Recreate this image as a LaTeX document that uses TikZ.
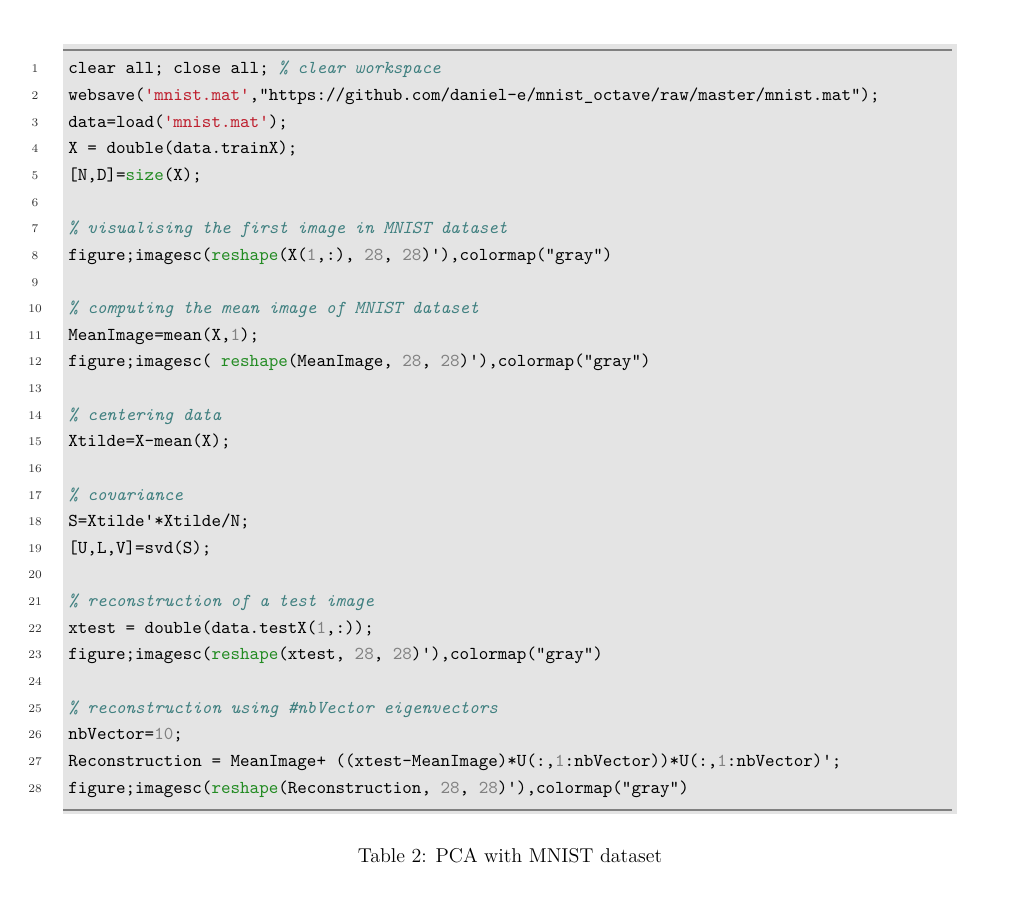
\documentclass[tikz,border=0pt]{standalone}
\definecolor{cmt}{RGB}{64,128,128}
\definecolor{str}{RGB}{190,30,45}
\definecolor{kw}{RGB}{34,139,34}
\definecolor{num}{RGB}{128,128,128}
\definecolor{bg}{RGB}{228,228,228}
\newcommand{\qq}{\char"27 }
\newcommand{\dq}{\char"22 }
\newcommand{\cm}[1]{\textcolor{cmt}{\itshape #1}}
\newcommand{\st}[1]{\textcolor{str}{#1}}
\newcommand{\kwd}[1]{\textcolor{kw}{#1}}
\newcommand{\nm}[1]{\textcolor{num}{#1}}
\begin{document}
\begin{tikzpicture}[x=0.55pt,y=-0.55pt,
  code/.style={anchor=base west,inner sep=0pt,font=\ttfamily\fontsize{10}{12}\selectfont},
  lnum/.style={anchor=base,inner sep=0pt,font=\fontsize{6.5}{8}\selectfont,text=black!80},
  rulel/.style={draw=black!50,line width=0.9pt}]
\useasboundingbox (0,0) rectangle (1024,901);
\fill[bg] (63,44) rectangle (957,814);
\draw[rulel] (63,50) -- (952,50);
\draw[rulel] (63,810) -- (952,810);
\foreach \i in {1,...,28}{
  \node[lnum] (n\i) at (35,{73+(\i-1)*26.63}) {\i};
}
\def\L#1#2{\node[code] (l#1) at (68,{74+(#1-1)*26.63}) {#2};}
\L{1}{clear all; close all; \cm{\% clear workspace}}
\L{2}{websave(\st{\qq mnist.mat\qq},\dq https://github.com/daniel-e/mnist\_octave/raw/master/mnist.mat\dq);}
\L{3}{data=load(\st{\qq mnist.mat\qq});}
\L{4}{X = double(data.trainX);}
\L{5}{[N,D]=\kwd{size}(X);}
\L{7}{\cm{\% visualising the first image in MNIST dataset}}
\L{8}{figure;imagesc(\kwd{reshape}(X(\nm{1},:), \nm{28}, \nm{28})\qq),colormap(\dq gray\dq)}
\L{10}{\cm{\% computing the mean image of MNIST dataset}}
\L{11}{MeanImage=mean(X,\nm{1});}
\L{12}{figure;imagesc( \kwd{reshape}(MeanImage, \nm{28}, \nm{28})\qq),colormap(\dq gray\dq)}
\L{14}{\cm{\% centering data}}
\L{15}{Xtilde=X-mean(X);}
\L{17}{\cm{\% covariance}}
\L{18}{S=Xtilde\qq*Xtilde/N;}
\L{19}{[U,L,V]=svd(S);}
\L{21}{\cm{\% reconstruction of a test image}}
\L{22}{xtest = double(data.testX(\nm{1},:));}
\L{23}{figure;imagesc(\kwd{reshape}(xtest, \nm{28}, \nm{28})\qq),colormap(\dq gray\dq)}
\L{25}{\cm{\% reconstruction using \#nbVector eigenvectors}}
\L{26}{nbVector=\nm{10};}
\L{27}{Reconstruction = MeanImage+ ((xtest-MeanImage)*U(:,\nm{1}:nbVector))*U(:,\nm{1}:nbVector)\qq;}
\L{28}{figure;imagesc(\kwd{reshape}(Reconstruction, \nm{28}, \nm{28})\qq),colormap(\dq gray\dq)}
\node[anchor=base,inner sep=0pt,font=\fontsize{11}{13}\selectfont] (cap) at (510,862) {Table 2: PCA with MNIST dataset};
\end{tikzpicture}
\end{document}
